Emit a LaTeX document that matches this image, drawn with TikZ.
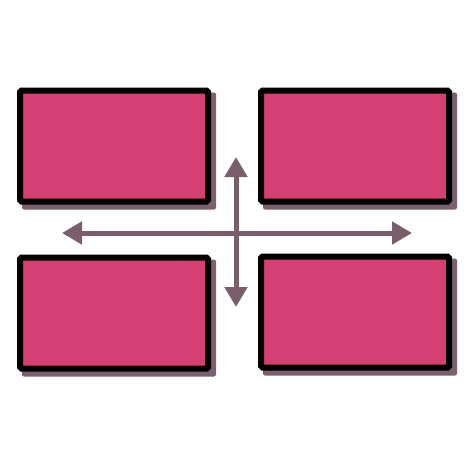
\documentclass[tikz,border=0pt]{standalone}
\usetikzlibrary{arrows.meta}
\definecolor{boxpink}{HTML}{D43F74}
\definecolor{shade}{HTML}{7B6170}
\definecolor{arrowc}{HTML}{7A5E6C}
\tikzset{
  panel/.style={draw=black, line width=6pt, fill=boxpink, minimum width=188pt, minimum height=111pt, inner sep=0pt, outer sep=0pt, rounded corners=1.5pt},
  shadowbox/.style={fill=shade, minimum width=194pt, minimum height=117pt, inner sep=0pt, rounded corners=2pt},
  dblarrow/.style={draw=arrowc, line width=5pt, {Triangle[width=22pt,length=20pt]}-{Triangle[width=22pt,length=20pt]}}
}
\begin{document}
\begin{tikzpicture}[x=1pt,y=-1pt]
\useasboundingbox (0,0) rectangle (474,474);
% shadows
\node[shadowbox] (s1) at (119,151) {};
\node[shadowbox] (s2) at (360,151) {};
\node[shadowbox] (s3) at (119,318) {};
\node[shadowbox] (s4) at (360,317) {};
% panels
\node[panel] (tl) at (114,146) {};
\node[panel] (tr) at (355,146) {};
\node[panel] (bl) at (114,313) {};
\node[panel] (br) at (355,312) {};
% arrows
\coordinate (L) at (62,233);
\coordinate (R) at (412,233);
\coordinate (T) at (236,157);
\coordinate (B) at (236,307);
\draw[dblarrow] (L) -- (R);
\draw[dblarrow] (T) -- (B);
\end{tikzpicture}
\end{document}
